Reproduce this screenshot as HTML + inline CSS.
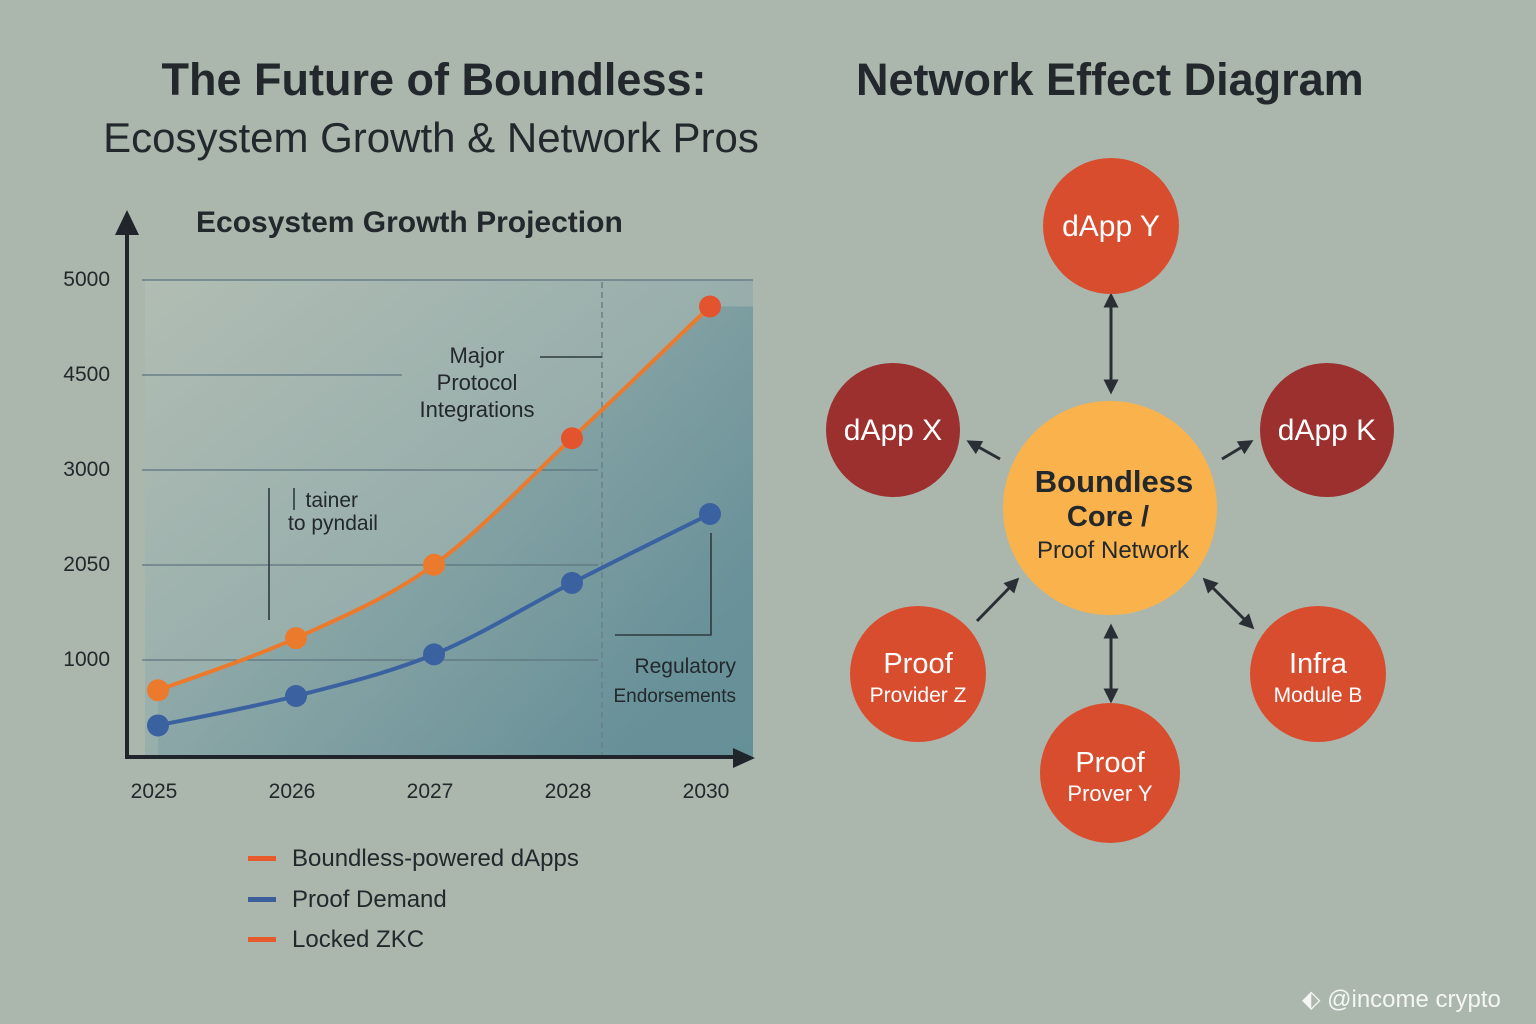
<!DOCTYPE html>
<html><head><meta charset="utf-8"><style>
html,body{margin:0;padding:0}
body{width:1536px;height:1024px;background:#abb7ad;font-family:"Liberation Sans",sans-serif;overflow:hidden;position:relative}
.t{position:absolute;color:#22282c;white-space:nowrap}
</style></head><body>
<div class="t" style="left:0;width:868px;text-align:center;top:54px;font-size:45px;font-weight:bold">The Future of Boundless:</div>
<div class="t" style="left:0;width:862px;text-align:center;top:114px;font-size:42px">Ecosystem Growth &amp; Network Pros</div>
<div class="t" style="left:856px;top:54px;font-size:45px;font-weight:bold">Network Effect Diagram</div>

<svg width="1536" height="1024" style="position:absolute;left:0;top:0">
<defs>
<linearGradient id="bg" x1="0" y1="0" x2="1" y2="1">
<stop offset="0" stop-color="#b1bdb3"/><stop offset="0.55" stop-color="#95adab"/><stop offset="1" stop-color="#6f959b"/></linearGradient>
<linearGradient id="ar" x1="0" y1="0" x2="1" y2="0.6">
<stop offset="0" stop-color="#9fb3ae" stop-opacity="0.6"/><stop offset="1" stop-color="#648e97" stop-opacity="0.8"/></linearGradient>
<marker id="ah" viewBox="0 0 10 10" refX="5" refY="5" markerWidth="5" markerHeight="5" orient="auto-start-reverse"><path d="M0,0L10,5L0,10z" fill="#2a2f36"/></marker>
</defs>
<g id="chart"></g>
<g id="diagram"></g>
</svg>

<div class="t" style="left:196px;top:206px;font-size:30px;font-weight:bold">Ecosystem Growth Projection</div>
<div class="t" style="left:400px;top:342px;font-size:22px;text-align:center;line-height:27px;width:154px">Major<br>Protocol<br>Integrations</div>
<div class="t" style="left:288px;top:489px;font-size:21px;line-height:23px">&nbsp;&nbsp;&nbsp;tainer<br>to pyndail</div>
<div class="t" style="left:612px;top:652px;font-size:21px;line-height:29px;text-align:right;width:124px">Regulatory<br><span style="font-size:19px">Endorsements</span></div>

<div>
<div style="position:absolute;left:248px;top:856px;width:28px;height:5px;background:#e65a2c"></div>
<div class="t" style="left:292px;top:845px;font-size:24px">Boundless-powered dApps</div>
<div style="position:absolute;left:248px;top:897px;width:28px;height:5px;background:#3c5f9c"></div>
<div class="t" style="left:292px;top:886px;font-size:24px">Proof Demand</div>
<div style="position:absolute;left:248px;top:937px;width:28px;height:5px;background:#e65a2c"></div>
<div class="t" style="left:292px;top:926px;font-size:24px">Locked ZKC</div>
</div>
<div class="t" style="left:1302px;top:985px;font-size:24px;color:#f4f6f4">⬖ @income crypto</div>

<script>
const years=["2025","2026","2027","2028","2030"];
const yTicks=[5000,4500,3000,2050,1000,0];
const dapps=[660,1220,2030,3470,4850];
const proofDemand=[290,600,1040,1830,2540];
const NS="http://www.w3.org/2000/svg";
const chart=document.getElementById('chart');
function el(t,a,p){const e=document.createElementNS(NS,t);for(const k in a)e.setAttribute(k,a[k]);(p||chart).appendChild(e);return e;}
const X0=158,XS=138,YT=278,YS=95;
function xs(i){return X0+i*XS;}
function ys(v){for(let i=0;i<yTicks.length-1;i++){const a=yTicks[i],b=yTicks[i+1];if(v<=a&&v>=b)return YT+(i+(a-v)/(a-b))*YS;}return v>yTicks[0]?YT-(v-yTicks[0])/500*YS:YT+5*YS;}
const bg=el('rect',{x:145,y:280,width:608,height:477,fill:'url(#bg)'});

function path(arr){const p=arr.map((v,i)=>[xs(i),ys(v)]);let d='M'+p[0];for(let i=0;i<p.length-1;i++){const p0=p[i-1]||p[i],p1=p[i],p2=p[i+1],p3=p[i+2]||p2;d+='C'+(p1[0]+(p2[0]-p0[0])/6)+','+(p1[1]+(p2[1]-p0[1])/6)+' '+(p2[0]-(p3[0]-p1[0])/6)+','+(p2[1]-(p3[1]-p1[1])/6)+' '+p2;}return d;}
const area=el('path',{d:path(dapps)+'L753,'+ys(dapps[4])+'L753,757L'+xs(0)+',757Z',fill:'url(#ar)'});

yTicks.slice(0,5).forEach((v,i)=>{const g=el('line',{x1:142,x2:i==0?753:(i==1?402:598),y1:ys(v)+2,y2:ys(v)+2,stroke:'#5d7480','stroke-width':1.3});

const t=el('text',{x:110,y:ys(v)+8,'text-anchor':'end','font-size':21,fill:'#22282c'});t.textContent=v;
});
years.forEach((y,i)=>{const t=el('text',{x:xs(i)-4,y:798,'text-anchor':'middle','font-size':21,fill:'#22282c'});t.textContent=y;
});
el('line',{x1:602,x2:602,y1:282,y2:757,stroke:'#6a8089','stroke-width':1.5,'stroke-dasharray':'6,4'});
el('path',{d:'M540,357H602M269,488V620M294,488V510M615,635H711V533',fill:'none',stroke:'#2e3a40','stroke-width':1.6});
[[dapps,'#ec7a2c','#e3532e','dapps'],[proofDemand,'#3b62a0','#3b62a0','proof-demand']].forEach(([arr,c,c2,n])=>{
const l=el('path',{d:path(arr),fill:'none',stroke:c,'stroke-width':4});

arr.forEach((v,i)=>{const p=el('circle',{cx:xs(i),cy:ys(v),r:11,fill:i>=3?c2:c});
});});
el('path',{d:'M127,225V757H740',fill:'none',stroke:'#1f252b','stroke-width':4});
el('path',{d:'M115,235L127,210L139,235Z',fill:'#1f252b'});
el('path',{d:'M733,748L755,758L733,768Z',fill:'#1f252b'});

const dg=document.getElementById('diagram');
const arrows=[[1111,300,1111,387,1],[1000,459,973,444,0],[1222,459,1247,444,0],[977,621,1014,583,0],[1208,583,1249,624,1],[1111,631,1111,696,1]];
arrows.forEach(a=>{const at={x1:a[0],y1:a[1],x2:a[2],y2:a[3],stroke:'#2a2f36','stroke-width':3,'marker-end':'url(#ah)'};if(a[4])at['marker-start']='url(#ah)';
const l=el('line',at,dg);
});
const nodes=[[1111,226,68,'#d94d2f',['dApp Y'],[30],'dapp-y'],[893,430,67,'#9c302e',['dApp X'],[30],'dapp-x'],[1327,430,67,'#9c302e',['dApp K'],[30],'dapp-k'],
[918,674,68,'#d94d2f',['Proof','Provider Z'],[29,21],'proof-provider-z'],[1110,773,70,'#d94d2f',['Proof','Prover Y'],[29,22],'proof-prover-y'],[1318,674,68,'#d94d2f',['Infra','Module B'],[29,21],'infra-module-b']];
nodes.forEach(n=>{const g=el('g',{},dg);
el('circle',{cx:n[0],cy:n[1],r:n[2],fill:n[3]},g);
n[4].forEach((s,i)=>{const t=el('text',{x:n[0],y:n[1]+(n[4].length==1?10:(i==0?-1:28)),'text-anchor':'middle','font-size':n[5][i],fill:'#fff'},g);t.textContent=s;});});
const c=el('g',{},dg);
el('circle',{cx:1110,cy:508,r:107,fill:'#f9b24c'},c);
[['Boundless',1114,492,31,'bold'],['Core /',1108,526,29,'bold'],['Proof Network',1113,558,24,'normal']].forEach(s=>{const t=el('text',{x:s[1],y:s[2],'text-anchor':'middle','font-size':s[3],'font-weight':s[4],fill:'#22282c'},c);t.textContent=s[0];});
</script>
</body></html>
